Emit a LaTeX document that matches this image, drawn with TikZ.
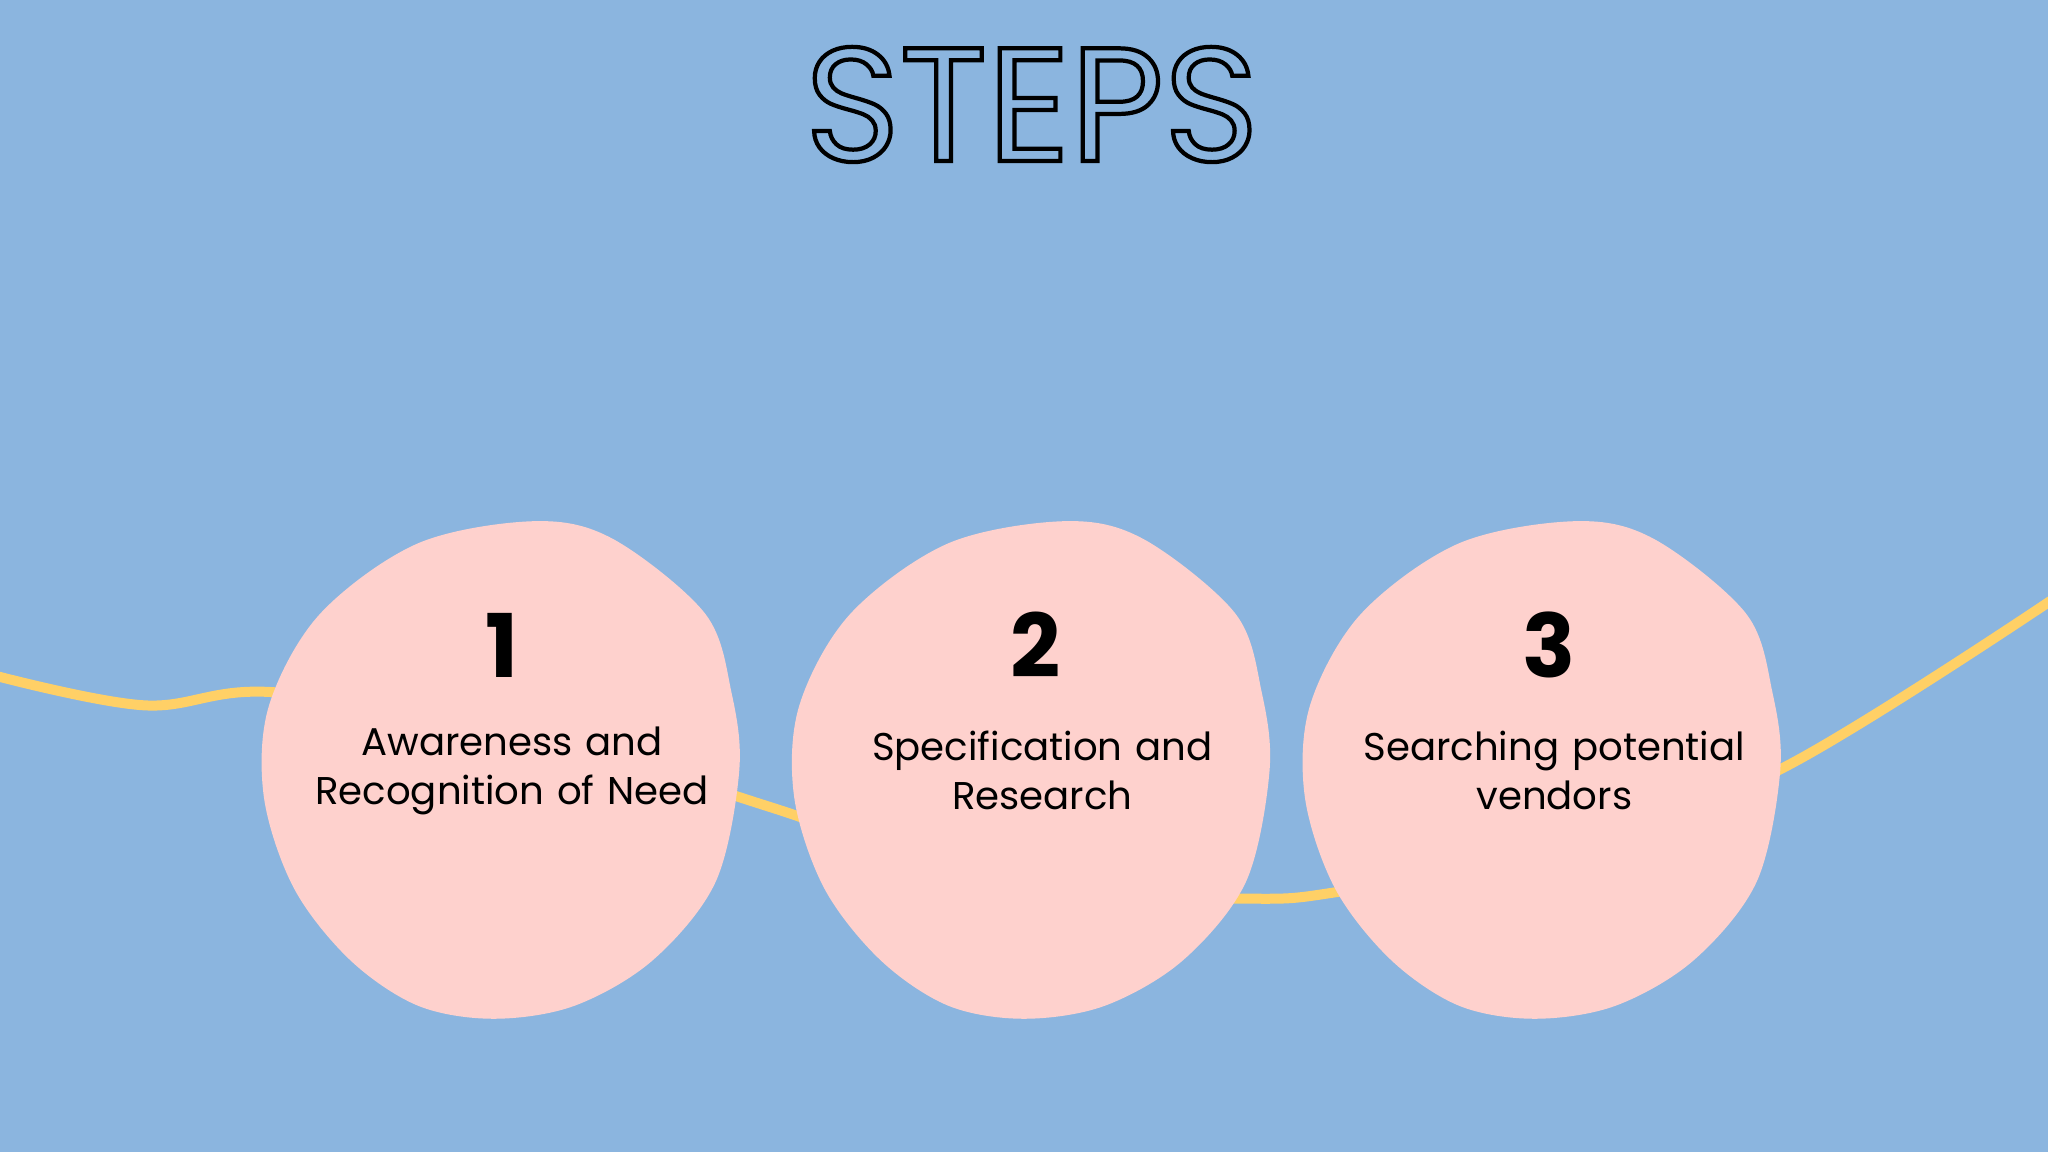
\documentclass[tikz,border=0pt]{standalone}
\usepackage{fontspec}
\setmainfont{Poppins}
\definecolor{skyback}{HTML}{8BB5DF}
\definecolor{blobpink}{HTML}{FED1CD}
\definecolor{pathgold}{HTML}{FFD066}
\newcommand{\outlinetext}[1]{\special{pdf:literal direct 1 Tr 1.2 w}#1\special{pdf:literal direct 0 Tr}}
\tikzset{
  blob/.style={fill=blobpink,draw=none},
  stepnum/.style={font=\fontsize{25}{28}\selectfont\bfseries},
  steptext/.style={font=\fontsize{11}{14}\selectfont,align=center,text width=4cm}
}
\begin{document}
\begin{tikzpicture}[x=0.013061cm,y=-0.013061cm]
  % background
  \fill[skyback] (0,0) rectangle (1568,882);
  \useasboundingbox (0,0) rectangle (1568,882);

  % the winding path
  \draw[pathgold,line width=0.1cm,line cap=round] plot[smooth,tension=0.6] coordinates
    {(-5,517) (110,540) (210,530) (400,560) (590,618) (780,680) (950,688) (1030,682) (1200,650) (1365,588) (1573,458)};

  % the three blobs
  \foreach \dx/\n in {0/a,406/b,797/c} {
    \fill[blob,shift={(\dx,0)}] plot[smooth cycle,tension=0.55] coordinates
      {(410,399) (470,413) (540,470) (560,530) (566,590) (548,675) (500,735) (440,770)
       (378,780) (320,770) (268,735) (225,680) (202,610) (206,540) (245,470) (320,416)};
  }

  % title
  \node[font=\fontsize{46}{50}\selectfont] (title) at (790,80) {\outlinetext{STEPS}};

  % numbers
  \node[stepnum] (n1) at (384,494) {1};
  \node[stepnum] (n2) at (793,494) {2};
  \node[stepnum] (n3) at (1186,494) {3};

  % step texts
  \node[steptext] (t1) at (392,590) {Awareness and\\Recognition of Need};
  \node[steptext] (t2) at (798,590) {Specification and\\Research};
  \node[steptext] (t3) at (1190,590) {Searching potential\\vendors};
\end{tikzpicture}
\end{document}
